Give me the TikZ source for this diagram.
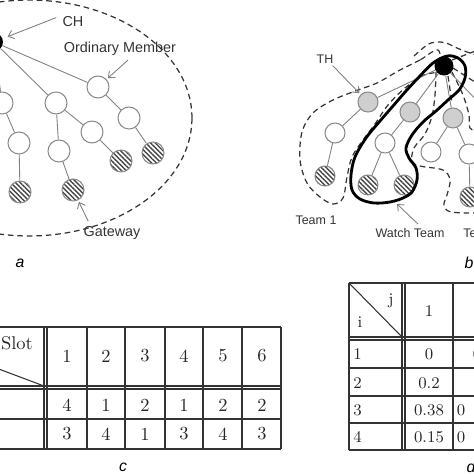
\documentclass[tikz,border=0pt]{standalone}
\usepackage{fontspec}
\newfontfamily\labelfont{Liberation Sans}
\usetikzlibrary{arrows.meta, patterns.meta, calc}
\definecolor{edgegray}{HTML}{808080}
\definecolor{rimgray}{HTML}{8A8A8A}
\definecolor{headfill}{HTML}{CFCFCF}
\definecolor{hatchgray}{HTML}{454545}
\definecolor{inkgray}{HTML}{333333}

\tikzset{
  member/.style={circle, draw=rimgray, fill=white, line width=0.6pt, minimum size=0.44cm, inner sep=0pt},
  smallmember/.style={member, minimum size=0.40cm},
  teamhead/.style={smallmember, fill=headfill},
  gateway/.style={member, pattern={Lines[angle=-45, distance=1.9pt, line width=0.8pt]}, pattern color=hatchgray},
  smallgateway/.style={gateway, minimum size=0.40cm},
  headnode/.style={circle, fill=black, minimum size=0.36cm, inner sep=0pt},
  link/.style={draw=edgegray, line width=0.5pt},
  pointer/.style={draw=edgegray, line width=0.5pt, -{Straight Barb[length=3pt, width=5pt]}},
  tag/.style={font=\labelfont\fontsize{8.2}{8.2}\selectfont, text=black!80, inner sep=0pt},
  smalltag/.style={font=\labelfont\fontsize{7.1}{7.1}\selectfont, text=black!80, inner sep=0pt},
  panel/.style={font=\labelfont\itshape\fontsize{9}{9}\selectfont, inner sep=0pt},
  teamline/.style={draw=inkgray, line width=0.7pt, dash pattern=on 3.2pt off 2.2pt},
  watchline/.style={draw=black, line width=1.6pt, line join=round},
  rule/.style={draw=black!80, line width=0.6pt},
  cell/.style={font=\fontsize{10.5}{10.5}\selectfont, text=black!85, inner sep=0pt},
  smallcell/.style={font=\fontsize{9.3}{9.3}\selectfont, text=black!85, inner sep=0pt}
}

\begin{document}
\begin{tikzpicture}[x=0.02cm, y=-0.02cm]
  \useasboundingbox (0,0) rectangle (474,474);
  \clip (0,0) rectangle (474,474);

  % Panel a - cluster tree
  \draw[teamline] (29,118) ellipse [x radius=3.26cm, y radius=2.36cm];
  \node[headnode] (ch) at (-6,42) {};
  \node[member] (n1) at (98,87) {};
  \node[member] (n2) at (129,118) {};
  \node[gateway] (g1) at (153,153) {};
  \node[member] (n3) at (56,103) {};
  \node[member] (n4) at (92,132) {};
  \node[gateway] (g2) at (121,161) {};
  \node[member] (n5) at (59,151) {};
  \node[gateway] (g3) at (73,190) {};
  \node[member] (n6) at (2,103) {};
  \node[member] (n7) at (19,143) {};
  \node[gateway] (g4) at (20,192) {};
  \foreach \a/\b in {ch/n1, ch/n3, ch/n6, n1/n2, n2/g1, n3/n4, n4/g2, n3/n5, n5/g3, n6/n7, n7/g4}
    \draw[link] (\a) -- (\b);
  % labels and pointers
  \node[tag] (chlabel) at (73,22) {CH};
  \node[tag] (omlabel) at (120,49) {Ordinary Member};
  \node[tag] (gwlabel) at (112,233) {Gateway};
  \draw[pointer, shorten >=3pt] ($(chlabel.north west)+(-6,1)$) -- (ch);
  \draw[pointer, shorten >=1pt] ($(omlabel.south)+(8,4)$) -- (n1);
  \draw[pointer, shorten >=1pt] ($(gwlabel.north west)+(5,-5)$) -- (g3);
  \node[panel] (pa) at (20,263) {a};

  % Panel b - teams round the TH
  \draw[teamline] plot[smooth cycle, tension=0.55] coordinates {(438,50) (420,60) (400,70) (377,83) (358,90) (333,100) (313,113) (302,132) (300,160) (307,183) (320,197) (333,204) (343,198) (347,177) (352,157) (363,140) (375,124) (388,105) (405,88) (424,75) (440,70)};
  \draw[teamline] plot[smooth, tension=0.55] coordinates {(414,56) (427,45) (436,42) (446,43) (457,48) (467,52) (480,56)};
  \draw[teamline] plot[smooth, tension=0.55] coordinates {(436,72) (435,95) (432,116) (425,134) (414,148) (412,161) (420,166) (443,170) (450,180) (447,195) (444,205) (451,212) (480,213)};
  \draw[teamline] plot[smooth, tension=0.55] coordinates {(452,72) (463,95) (469,115) (470,128) (480,133)};
  \draw[teamline] (448,76) -- (452,103);
  \draw[teamline] (452,60) -- (478,50);
  \draw[teamline] (453,68) -- (478,84);
  \node[headnode, minimum size=0.38cm] (root) at (444,66) {};
  \node[teamhead] (th1) at (368,102) {};
  \node[teamhead] (th2) at (410,112) {};
  \node[teamhead] (th3) at (453,118) {};
  \node[smallmember] (w1) at (335,133) {};
  \node[smallmember] (w2) at (385,143) {};
  \node[smallmember] (w3) at (431,152) {};
  \node[smallmember] (w4) at (469,154) {};
  \node[smallgateway] (h1) at (325,176) {};
  \node[smallgateway] (h2) at (368,185) {};
  \node[smallgateway] (h3) at (404,185) {};
  \node[smallgateway] (h4) at (470,197) {};
  \coordinate (offth) at (500,125);
  \foreach \a/\b in {root/th1, root/th2, root/th3, root/offth, th1/w1, w1/h1, th2/w2, w2/h2, w2/h3, th3/w3, th3/w4, w4/h4}
    \draw[link] (\a) -- (\b);
  % watch team outline
  \draw[watchline] plot[smooth cycle, tension=0.55] coordinates {(447,56) (458,58) (465,66) (465,78) (459,90) (448,100) (436,111) (423,122) (412,135) (406,148) (409,158) (416,168) (417,180) (412,192) (403,198) (390,202) (374,203) (360,199) (352,190) (351,175) (355,157) (366,138) (380,121) (393,106) (406,91) (419,77) (433,63)};
  % labels and pointers
  \node[smalltag] (thlabel) at (325,59) {TH};
  \node[smalltag] (t1label) at (316,220) {Team 1};
  \node[smalltag] (wtlabel) at (410,233) {Watch Team};
  \node[smalltag, anchor=west] (t2label) at (463,233) {Team 2};
  \coordinate (wtip) at (397,204);
  \draw[pointer, shorten >=1pt] ($(thlabel.south east)+(-1,2)$) -- (th1);
  \draw[pointer] ($(wtlabel.north)+(8,-4)$) -- (wtip);
  \node[panel] (pb) at (469,263) {b};

  % Panel c - slot table
  \foreach \y in {327,386,389,419,449}
    \draw[rule] (-20,\y) -- (281,\y);
  \foreach \x in {44,47,87,125,165,203,242,281}
    \draw[rule] (\x,327) -- (\x,449);
  \draw[rule] (-113,327) -- (44,386);
  \node[cell] (slot) at (17,343) {Slot};
  \foreach \v [count=\k] in {1,2,3,4,5,6}
    \node[cell] (head-\k) at (28+39*\k,356) {\v};
  \foreach \v [count=\k] in {4,1,2,1,2,2}
    \node[cell] (rowa-\k) at (28+39*\k,405) {\v};
  \foreach \v [count=\k] in {3,4,1,3,4,3}
    \node[cell] (rowb-\k) at (28+39*\k,434) {\v};
  \node[panel] (pc) at (123,467) {c};

  % Panel d - i/j table
  \foreach \y in {283,337,340,368,396,423,450}
    \draw[rule] (349,\y) -- (480,\y);
  \foreach \x in {349,402,405,453}
    \draw[rule] (\x,283) -- (\x,450);
  \draw[rule] (349,283) -- (402,337);
  \node[smallcell] (jlabel) at (391,301) {j};
  \node[smallcell] (ilabel) at (360,322) {i};
  \node[smallcell] (col-1) at (429,311) {1};
  \foreach \y/\v [count=\k] in {354/0, 383/0.2, 410/0.38, 437/0.15} {
    \node[smallcell, anchor=west] (row-\k) at (353,\y) {\k};
    \node[smallcell] (val-\k) at (429,\y) {\v};
  }
  \node[smallcell] (valb-1) at (477,354) {0};
  \node[smallcell] (valb-3) at (461,410) {0};
  \node[smallcell] (valb-4) at (461,437) {0};
  \node[panel] (pd) at (471,467) {d};
\end{tikzpicture}
\end{document}
